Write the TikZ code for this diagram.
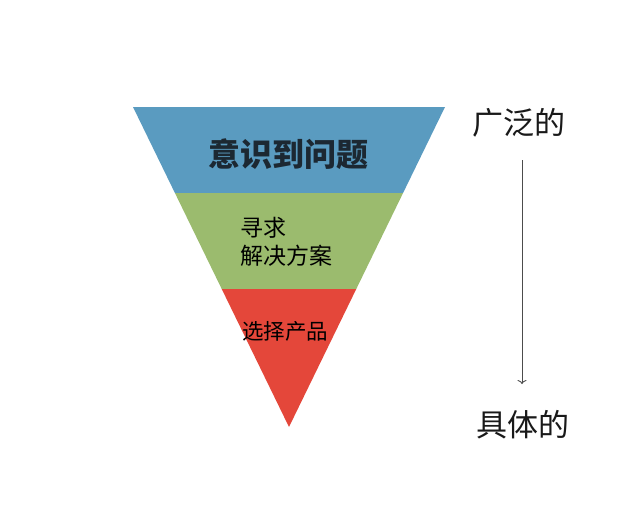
\documentclass[tikz,border=0pt]{standalone}
\usepackage{fontspec}
\setmainfont{Noto Sans CJK SC}
\usetikzlibrary{arrows.meta, positioning}
\definecolor{bleu}{RGB}{90,155,192}
\definecolor{vert}{RGB}{155,187,110}
\definecolor{rouge}{RGB}{228,71,58}
\definecolor{encre}{RGB}{28,40,50}
\tikzstyle{fleche} = [->,>={To[length=4pt,width=9pt]},draw=black!70,line width=0.9pt]
\tikzstyle{etage} = [anchor=west,align=left,inner sep=0pt]
\tikzstyle{cote} = [inner sep=0pt,text=black!90,font=\fontsize{31}{36}\selectfont]

\begin{document}
\begin{tikzpicture}[x=1pt,y=-1pt]
	\useasboundingbox (0,0) rectangle (640,522);

	\begin{scope}
		\clip (133,107) -- (445,107) -- (289,427) -- cycle;
		\fill[bleu] (120,100) rectangle (460,193);
		\fill[vert] (120,193) rectangle (460,289);
		\fill[rouge] (120,289) rectangle (460,440);
	\end{scope}

	\node (P) at (288,154) [inner sep=0pt,text=encre,font=\fontsize{32}{36}\selectfont\bfseries] {意识到问题};
	\node (S) at (240,242) [etage,font=\fontsize{23}{28}\selectfont] {寻求\\解决方案};
	\node (C) at (242,331) [etage,font=\fontsize{21.5}{26}\selectfont] {选择产品};

	\node (W) at (519,123) [cote] {广泛的};
	\node (D) at (523,425) [cote] {具体的};

	\coordinate (Wb) at (522,160);
	\coordinate (Dh) at (522,384);
	\draw[fleche] (Wb) -- (Dh);
\end{tikzpicture}
\end{document}
